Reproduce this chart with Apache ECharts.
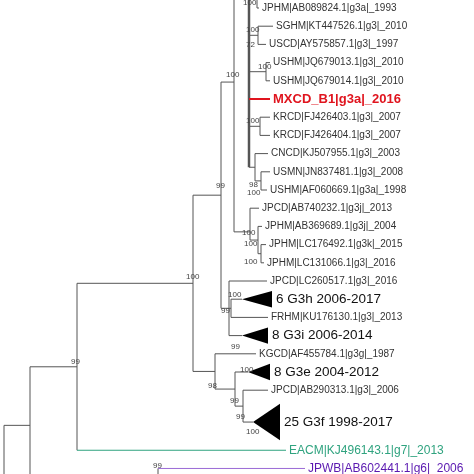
<!DOCTYPE html>
<html><head><meta charset="utf-8">
<script src="https://cdn.jsdelivr.net/npm/echarts@6/dist/echarts.min.js"></script>
<style>html,body{margin:0;padding:0;background:#fff}#c{width:474px;height:474px}</style>
</head><body><div id="c"></div>
<script>
// internal nodes: id, parent, x (branch depth)
const nodeIds     = ['R0','N30','N77','N158','N193','N222','N215','N234','N229','Na','N257','N258','N266','N260','N255','N261','Nb','N258b','N261b','N231','N235','N243'];
const nodeParents = [null,'R0','N30','N30','N77','N193','N193','N222','N222','N234','Na','Na','Na','Na','Na','N255','N234','Nb','N258b','N229','N215','N235'];
const nodeX       = [4,30,77,158,193,221,215,234,229,249,257,258,266,260,255,261,250,258,261,231,235,243];
const nodeRowFix  = {N234:4.07, Na:-2, Nb:12.3};
// leaves (kind: leaf / clade / hidden)
const leafNames = ['','','JPHM|AB089824.1|g3a|_1993','SGHM|KT447526.1|g3|_2010','USCD|AY575857.1|g3|_1997','USHM|JQ679013.1|g3|_2010','USHM|JQ679014.1|g3|_2010','MXCD_B1|g3a|_2016','KRCD|FJ426403.1|g3|_2007','KRCD|FJ426404.1|g3|_2007','CNCD|KJ507955.1|g3|_2003','USMN|JN837481.1|g3|_2008','USHM|AF060669.1|g3a|_1998','JPCD|AB740232.1|g3j|_2013','JPHM|AB369689.1|g3j|_2004','JPHM|LC176492.1|g3k|_2015','JPHM|LC131066.1|g3|_2016','JPCD|LC260517.1|g3|_2016','6 G3h 2006-2017','FRHM|KU176130.1|g3|_2013','8 G3i 2006-2014','KGCD|AF455784.1|g3g|_1987','8 G3e 2004-2012','JPCD|AB290313.1|g3|_2006','25 G3f 1998-2017','EACM|KJ496143.1|g7|_2013','JPWB|AB602441.1|g6|_2006','',''];
const leafParents = ['Na','N257','N257','N258','N258','N266','N266','Na','N260','N260','N255','N261','N261','Nb','N258b','N261b','N261b','N229','N231','N231','N229','N215','N235','N243','N243','N77','N158','N158','R0'];
const leafRows  = [-3,-1,0,1,2,3,4,5,6,7,8,9,10,11,12,13,14,15,16,17,18,19,20,21,22.75,24.3,25.3,27,30];
const leafTipX  = [260,260,259,273,266,270,270,270,270,270,268,270,267,259,262,266,264,267,242,268,242,256,248,268,253,286,305,300,300];
const leafKind  = ['hidden','hidden','leaf','leaf','leaf','leaf','leaf','red','leaf','leaf','leaf','leaf','leaf','leaf','leaf','leaf','leaf','leaf','clade','leaf','clade','leaf','clade','leaf','clade','teal','purple','hidden','hidden'];
const cladeEndX = {18:272,20:268,22:270,24:280};
const cladeHalf = {18:0.45,20:0.45,22:0.45,24:1.0};
// bootstrap support labels
const supText = ['100','100','72','100','100','98','100','100','99','100','99','100','100','100','100','99','99','98','100','99','99','100','99'];
const supPos  = [[240,3],[243,30],[243,45],[255,67],[243,121],[246,185],[244,193],[223,75],[213,186],[183,277],[68,362],[239,233],[241,244],[241,262],[225,295],[218,311],[228,347],[205,386],[237,370],[227,401],[233,417],[243,432],[150,466]];

const rowToY = r => 8 + 18.2*r;
const yToRow = y => (y-8)/18.2;
const nodeMap = {};
nodeIds.forEach((id,i)=>nodeMap[id]={id,parent:nodeParents[i],x:nodeX[i],kids:[]});
nodeIds.forEach(id=>{const p=nodeMap[id].parent; if(p) nodeMap[p].kids.push({type:'n',id});});
leafNames.forEach((n,i)=>nodeMap[leafParents[i]].kids.push({type:'l',i}));
function rowOf(k){ return k.type==='l' ? leafRows[k.i] : nodeRow(k.id); }
function nodeRow(id){
  const n=nodeMap[id]; if(n.row!==undefined) return n.row;
  const rs=n.kids.map(rowOf);
  n.min=Math.min(...rs); n.max=Math.max(...rs);
  n.row = (id in nodeRowFix) ? nodeRowFix[id] : (n.min+n.max)/2;
  return n.row;
}
nodeIds.forEach(nodeRow);
const COL={leaf:'#555',hidden:'#555',red:'#e0141e',teal:'#2fa37f',purple:'#9a6ad6',clade:'#555'};
const segs=[];
nodeIds.forEach(id=>{
  const n=nodeMap[id];
  segs.push([n.x,Math.min(n.min,n.row),n.x,Math.max(n.max,n.row),'#555',id==='Na'?2.5:1]);
  if(n.parent) segs.push([nodeMap[n.parent].x,n.row,n.x,n.row,'#555',1]);
});
leafNames.forEach((nm,i)=>{
  const p=nodeMap[leafParents[i]];
  const k=leafKind[i];
  segs.push([p.x,leafRows[i],leafTipX[i],leafRows[i],COL[k],k==='red'?2:1]);
});
const tris=Object.keys(cladeEndX).map(i=>[leafTipX[i],leafRows[i],cladeEndX[i],cladeHalf[i]]);
const texts=[];
leafNames.forEach((nm,i)=>{
  const k=leafKind[i]; if(k==='hidden') return;
  let x = k==='clade'? cladeEndX[i]+4 : leafTipX[i]+3;
  const st={leaf:{c:'#333',s:10,w:'normal'},red:{c:'#e0141e',s:13,w:'bold'},teal:{c:'#2fa37f',s:12,w:'normal'},purple:{c:'#5a18b0',s:12,w:'normal'},clade:{c:'#111',s:13.5,w:'normal'}}[k];
  texts.push([x,leafRows[i],nm,st.c,st.s,st.w]);
});
supText.forEach((t,i)=>texts.push([supPos[i][0]+3,yToRow(supPos[i][1]),t,'#444',8,'normal']));

const chart=echarts.init(document.getElementById('c'));
chart.setOption({
  animation:false,
  grid:{left:0,right:0,top:0,bottom:0},
  xAxis:{type:'value',min:0,max:474,show:false},
  yAxis:{type:'value',min:yToRow(0),max:yToRow(474),inverse:true,show:false},
  series:[
    {type:'custom',data:segs,clip:true,renderItem:(p,api)=>{
      const a=api.coord([api.value(0),api.value(1)]),b=api.coord([api.value(2),api.value(3)]);
      const d=segs[p.dataIndex];
      return {type:'line',shape:{x1:a[0],y1:a[1],x2:b[0],y2:b[1]},style:{stroke:d[4],lineWidth:d[5]}};
    }},
    {type:'custom',data:tris,renderItem:(p,api)=>{
      const a=api.coord([api.value(0),api.value(1)]);
      const t=api.coord([api.value(2),api.value(1)-api.value(3)]);
      const b=api.coord([api.value(2),api.value(1)+api.value(3)]);
      return {type:'polygon',shape:{points:[a,t,b]},style:{fill:'#000'}};
    }},
    {type:'custom',data:texts,renderItem:(p,api)=>{
      const d=texts[p.dataIndex]; const a=api.coord([d[0],d[1]]);
      return {type:'text',x:a[0],y:a[1],style:{text:d[2],fill:d[3],fontSize:d[4],fontWeight:d[5],fontFamily:'Liberation Sans, Arial, sans-serif',verticalAlign:'middle',align:'left'}};
    }}
  ]
});
</script></body></html>
